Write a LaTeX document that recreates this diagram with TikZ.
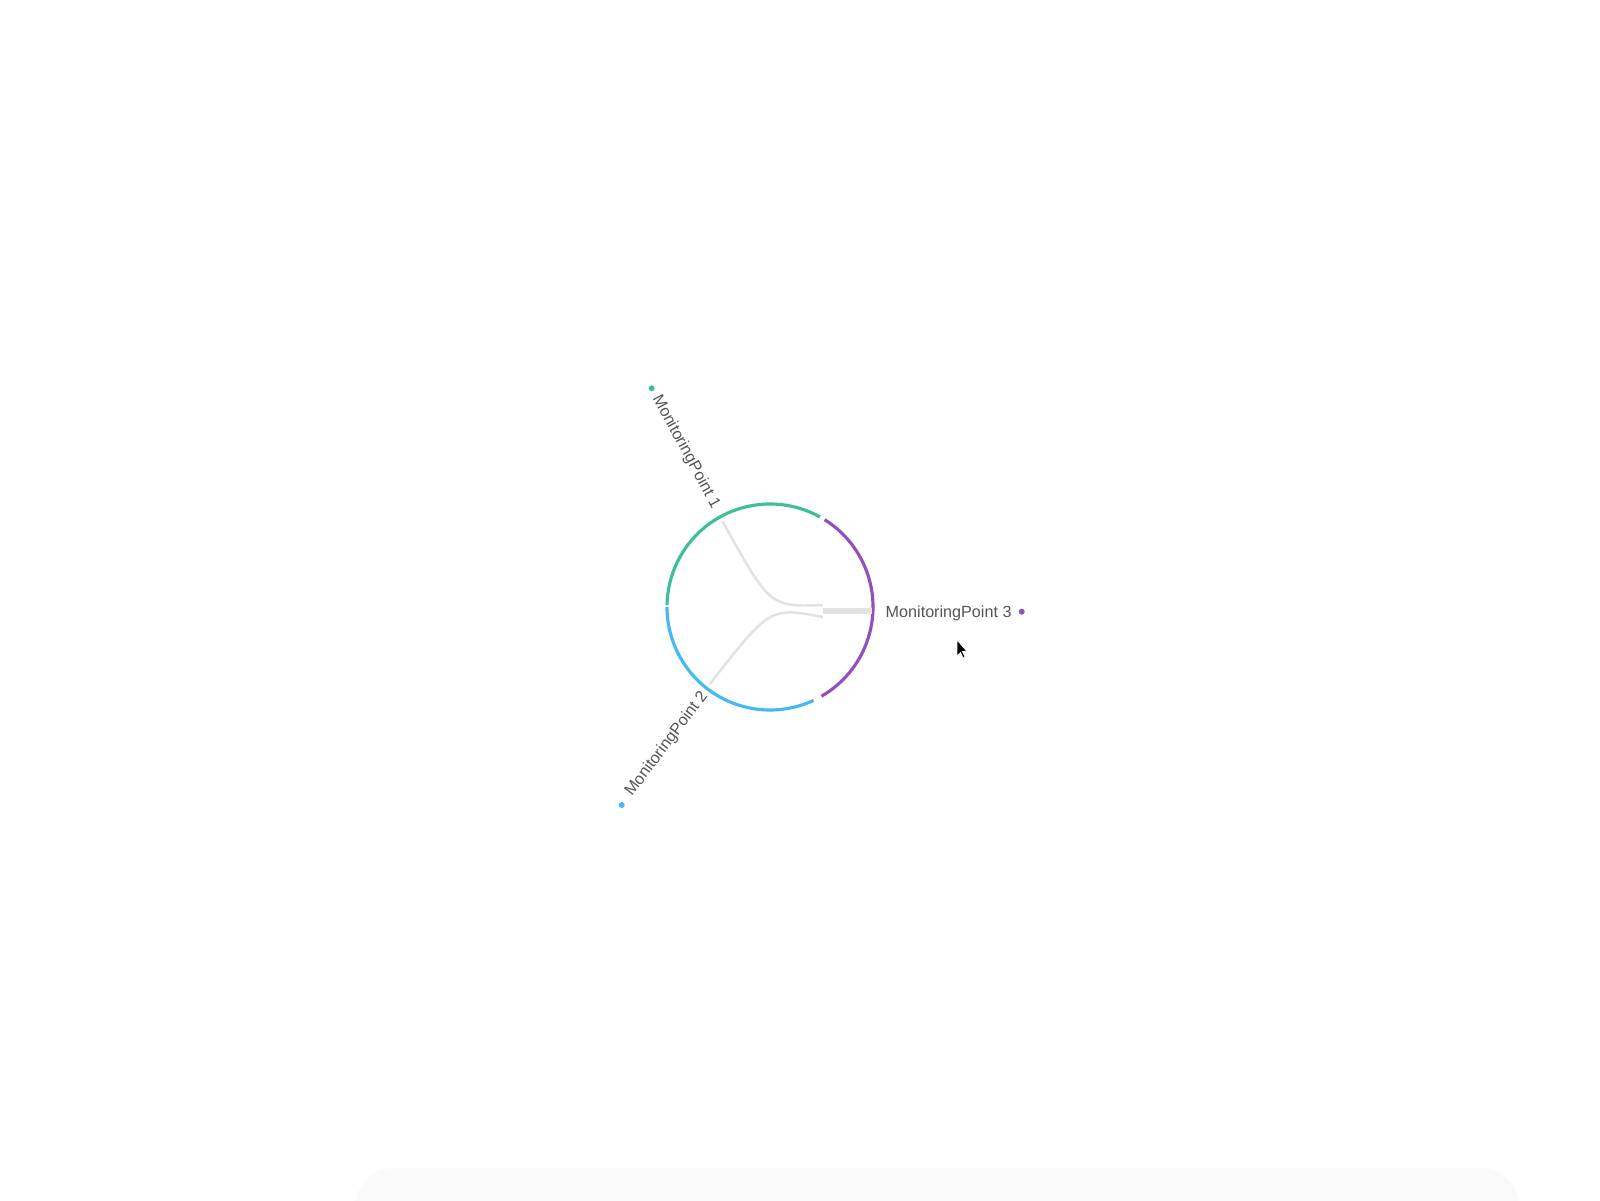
\documentclass[tikz,border=0pt]{standalone}
\usepackage{fontspec}
\setmainfont{Liberation Sans}
\definecolor{cgreen}{HTML}{3DBF99}
\definecolor{cpurple}{HTML}{9150BC}
\definecolor{cblue}{HTML}{45B9F2}
\definecolor{cribbon}{HTML}{E2E2E2}
\definecolor{clabel}{HTML}{555555}
\definecolor{cpanel}{HTML}{FAFAFA}
\tikzset{
  grouparc/.style={line width=0.9pt},
  ribbon/.style={draw=cribbon, line width=0.7pt},
  lbl/.style={text=clabel, font=\fontsize{4.6}{5}\selectfont, inner sep=0pt},
  enddot/.style={circle, inner sep=0pt, minimum size=0.06cm},
}
\begin{document}
\begin{tikzpicture}
\useasboundingbox (0,0) rectangle (16,12);
\fill[white] (0,0) rectangle (16,12);
% faint panel at the bottom
\fill[cpanel, rounded corners=0.4cm] (3.55,-0.4) rectangle (15.2,0.32);
% centre
\coordinate (c) at (7.70,5.93);
% group arcs
\draw[grouparc, cgreen]  ([shift={(61:1.03)}]c)  arc (61:179:1.03);
\draw[grouparc, cblue]   ([shift={(180:1.03)}]c) arc (180:295:1.03);
\draw[grouparc, cpurple] ([shift={(-60:1.03)}]c) arc (-60:58:1.03);
% ribbon anchors
\coordinate (ra) at ([shift={(119:0.98)}]c);
\coordinate (rb) at ([shift={(-128:0.98)}]c);
\coordinate (rj1) at (8.23,5.95);
\coordinate (rj2) at (8.23,5.83);
\coordinate (rj) at (8.23,5.89);
\coordinate (re) at (8.72,5.89);
\draw[ribbon] (ra) .. controls (c) .. (rj1);
\draw[ribbon] (rb) .. controls (c) .. (rj2);
\draw[draw=cribbon, line width=1.5pt] (rj) -- (re);
% labels
\node[lbl, anchor=east, rotate=-61.6] (la) at ([shift={(118.4:1.13)}]c) {MonitoringPoint 1};
\node[lbl, anchor=east, rotate=53] (lb) at ([shift={(-127:1.08)}]c) {MonitoringPoint 2};
\node[lbl, anchor=west] (lc) at (8.85,5.87) {MonitoringPoint 3};
% end dots
\node[enddot, fill=cgreen]  (da) at (6.517,8.117) {};
\node[enddot, fill=cblue]   (db) at (6.217,3.95) {};
\node[enddot, fill=cpurple] (dc) at (10.217,5.883) {};
% mouse cursor
\fill[black, draw=white, line width=0.2pt]
  (9.57,5.60) -- (9.57,5.44) -- (9.605,5.475) -- (9.63,5.42) -- (9.65,5.43)
  -- (9.625,5.485) -- (9.67,5.485) -- cycle;
\end{tikzpicture}
\end{document}
